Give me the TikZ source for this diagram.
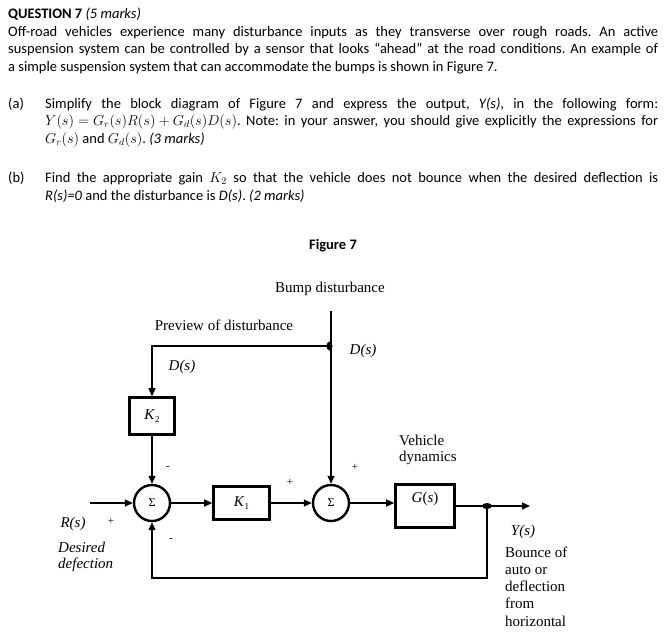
\documentclass[tikz,border=0pt]{standalone}
\usepackage{fontspec}
\setmainfont{Carlito}
\newfontfamily\diagfont{Liberation Serif}
\usetikzlibrary{arrows.meta,calc,positioning}
\frenchspacing

\begin{document}
\begin{tikzpicture}[
  x=1pt, y=-1pt,
  textrow/.style={
    anchor=base west,
    inner sep=0pt,
    font=\fontsize{14.5}{17.5}\selectfont
  },
  diag/.style={
    inner sep=0pt,
    align=left,
    font=\diagfont\fontsize{15}{16.5}\selectfont
  },
  diagit/.style={
    diag,
    font=\diagfont\itshape\fontsize{15}{16.5}\selectfont
  },
  sign/.style={
    inner sep=0pt,
    font=\diagfont\fontsize{11}{12}\selectfont
  },
  gain/.style={
    draw=black,
    line width=2.6pt,
    minimum width=45pt,
    minimum height=37pt,
    inner sep=0pt,
    font=\diagfont\fontsize{15}{17}\selectfont
  },
  junction/.style={
    draw=black,
    circle,
    line width=2.4pt,
    minimum size=36pt,
    inner sep=0pt,
    font=\diagfont\fontsize{12}{13}\selectfont
  },
  signal/.style={
    draw=black,
    line width=1.3pt,
    -{Triangle[length=8pt,width=7pt]}
  }
]
\useasboundingbox (0,0) rectangle (668,640);

% Question text
\node[textrow] (title) at (8,18)
  {\textbf{QUESTION 7} \textit{(5 marks)}};
\node[textrow] (intro-1) at (8,36)
  {\makebox[650pt][s]{Off-road vehicles experience many disturbance inputs as they transverse over rough roads. An active}};
\node[textrow] (intro-2) at (8,53.5)
  {\makebox[650pt][s]{suspension system can be controlled by a sensor that looks “ahead” at the road conditions. An example of}};
\node[textrow] (intro-3) at (8,71)
  {a simple suspension system that can accommodate the bumps is shown in Figure 7.};

\node[textrow] (part-a) at (8,108) {(a)};
\node[textrow] (part-a-1) at (45,108)
  {\makebox[613pt][s]{Simplify the block diagram of Figure 7 and express the output, \textit{Y(s)}, in the following form:}};
\node[textrow] (part-a-2) at (45,125.5)
  {\makebox[613pt][s]{\mbox{$Y(s)=G_r(s)R(s)+G_d(s)D(s)$}. Note: in your answer, you should give explicitly the expressions for}};
\node[textrow] (part-a-3) at (45,143)
  {$G_r(s)$ and $G_d(s)$. \textit{(3 marks)}};

\node[textrow] (part-b) at (8,182) {(b)};
\node[textrow] (part-b-1) at (45,182)
  {\makebox[613pt][s]{Find the appropriate gain \mbox{$K_2$} so that the vehicle does not bounce when the desired deflection is}};
\node[textrow] (part-b-2) at (45,200.5)
  {\textit{R(s)=0} and the disturbance is \textit{D(s)}. \textit{(2 marks)}};

\node[font=\bfseries\fontsize{14.5}{17}\selectfont] (figcap) at (333,246)
  {Figure 7};

% Blocks
\node[gain] (k2) at (152,416)
  {\textit{K}\raisebox{-3pt}{\fontsize{9}{9}\selectfont 2}};
\node[junction] (sum-r) at (152,503) {Σ};
\node[gain,minimum width=56pt,minimum height=33pt] (k1) at (241.5,503)
  {\textit{K}\raisebox{-3pt}{\fontsize{9}{9}\selectfont 1}};
\node[junction] (sum-d) at (331,503) {Σ};
\node[gain,minimum width=59pt,minimum height=43pt,text depth=18pt] (plant)
  at (425,506) {\textit{G}(\textit{s})};

\coordinate (bump) at (331,311);
\coordinate (tap-d) at (331,346);
\coordinate (rin) at (90,503);
\coordinate (ytap) at (487,506);
\coordinate (yout) at (530,506);
\coordinate (fb-corner) at (487,578);

% Connectors
\draw[signal] (bump) -- (sum-d.north);
\draw[signal] (tap-d) -| (k2.north);
\draw[signal] (k2.south) -- (sum-r.north);
\draw[signal] (rin) -- (sum-r.west);
\draw[signal] (sum-r.east) -- (k1.west);
\draw[signal] (k1.east) -- (sum-d.west);
\draw[signal] (sum-d.east) -- (sum-d.east -| plant.west);
\draw[signal] (plant.east) -- (yout);
\draw[signal] (ytap) -- (fb-corner) -| (sum-r.south);

\fill ([xshift=-1.5pt]tap-d) ellipse [x radius=3pt, y radius=4.5pt];
\fill (ytap) ellipse [x radius=5pt, y radius=3pt];

% Labels
\node[diag] (bump-label) at (330,289) {Bump disturbance};
\node[diag] (preview-label) at (224,325) {Preview of disturbance};
\node[diagit] (d-main) at (363,351) {D(s)};
\node[diagit] (d-preview) at (182,367) {D(s)};
\node[diag,anchor=west] (vehicle) at (399,450) {Vehicle\\dynamics};

\node[sign] (minus-k2) at (168,468) {-};
\node[sign] (plus-k1) at (290,482) {+};
\node[sign] (plus-d) at (355,467) {+};
\node[sign] (plus-r) at (111,521) {+};
\node[sign] (minus-fb) at (171,540) {-};

\node[diagit] (r-label) at (73,524) {R(s)};
\node[diagit,anchor=west] (r-desc) at (58,557) {Desired\\defection};
\node[diagit] (y-label) at (523,532) {Y(s)};
\node[diag,anchor=west,font=\diagfont\fontsize{15}{17.25}\selectfont] (y-desc)
  at (505,586.5) {Bounce of\\auto or\\deflection\\from\\horizontal};

\end{tikzpicture}
\end{document}
